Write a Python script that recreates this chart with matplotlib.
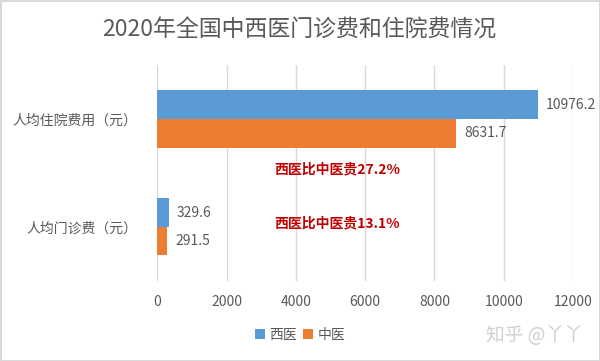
import matplotlib
matplotlib.use('Agg')
import matplotlib.pyplot as plt
import numpy as np

plt.rcParams['font.family'] = ['Noto Sans CJK SC', 'DejaVu Sans']

categories = ['人均门诊费（元）', '人均住院费用（元）']
xiyi = [329.6, 10976.2]   # 西医
zhongyi = [291.5, 8631.7]  # 中医
notes = ['西医比中医贵13.1%', '西医比中医贵27.2%']
xticks = [0, 2000, 4000, 6000, 8000, 10000, 12000]

blue = '#5B9BD5'
orange = '#ED7D31'
grey = '#595959'

fig = plt.figure(figsize=(6, 3.61), dpi=100)
fig.patch.set_edgecolor('#D9D9D9')
fig.patch.set_linewidth(2)
ax = fig.add_axes([0.262, 0.222, 0.693, 0.598])

y = np.arange(len(categories))
h = 0.265
b1 = ax.barh(y + h / 2, xiyi, height=h, color=blue, label='西医', zorder=3)
b2 = ax.barh(y - h / 2, zhongyi, height=h, color=orange, label='中医', zorder=3)
for bars in (b1, b2):
    ax.bar_label(bars, fmt='%.1f', padding=6, fontsize=10, color=grey)

ax.set_xlim(0, 12000)
ax.set_ylim(-0.5, 1.5)
ax.set_xticks(xticks)
ax.set_yticks(y)
ax.set_yticklabels(categories)
ax.tick_params(axis='both', length=0, labelcolor=grey)
ax.tick_params(axis='x', labelsize=10, pad=10)
ax.tick_params(axis='y', labelsize=10, pad=14)
ax.grid(axis='x', color='#D9D9D9', linewidth=1, zorder=0)
for s in ax.spines.values():
    s.set_visible(False)

# 红色注释
for yi, t in zip([0.03, 0.53], notes):
    ax.text(5200, yi, t, color='#C00000', fontsize=10, fontweight='bold',
            ha='center', va='center')

fig.text(0.498, 0.917, '2020年全国中西医门诊费和住院费情况', fontsize=16.5,
         color=grey, ha='center', va='center')
fig.legend(handles=[b1, b2], loc='center', bbox_to_anchor=(0.5, 0.072), ncol=2,
           frameon=False, fontsize=10, labelcolor=grey, handlelength=0.7,
           handleheight=0.7, handletextpad=0.3, columnspacing=0.5)
fig.text(0.971, 0.072, '知乎 @丫丫', color='#D0D0D0', fontsize=13.5, ha='right', va='center')

fig.savefig('out.png', dpi=100)
